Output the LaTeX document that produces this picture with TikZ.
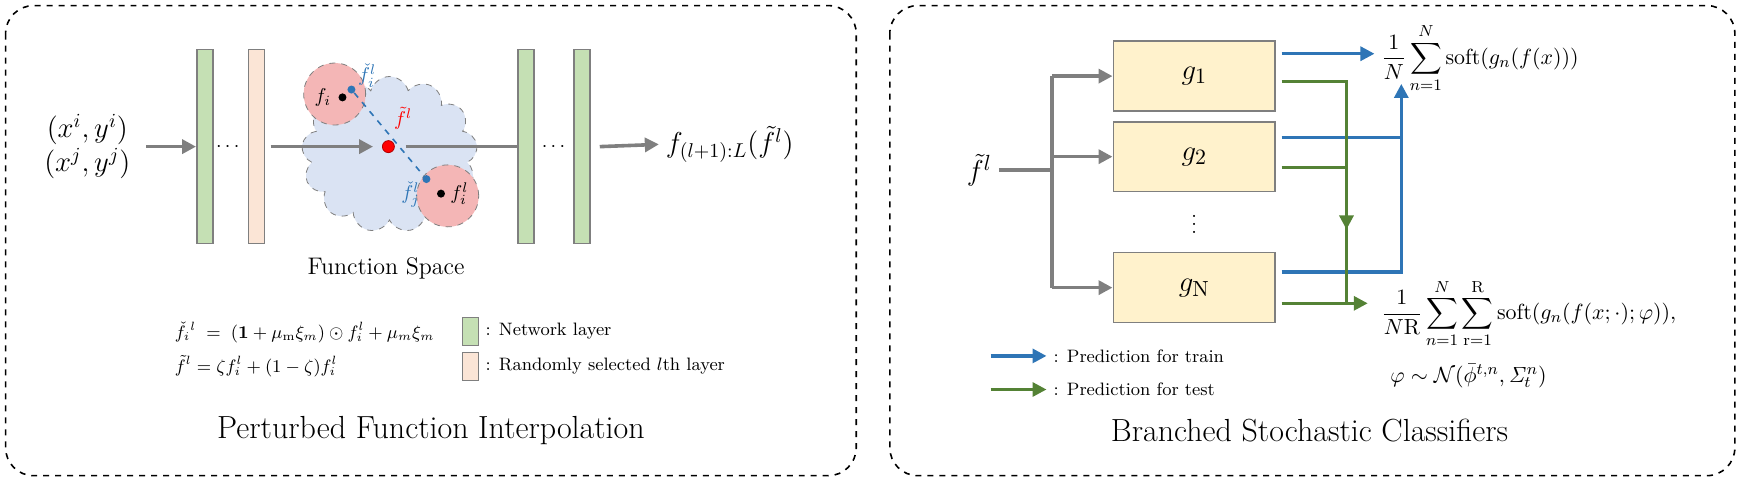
\documentclass[tikz,border=0pt]{standalone}
\usepackage{amsmath,amssymb,bm}
\usetikzlibrary{shapes.symbols,arrows.meta,positioning,calc}
\definecolor{garr}{HTML}{7F7F7F}
\definecolor{bl}{HTML}{2E75B6}
\definecolor{gr}{HTML}{548235}
\definecolor{lg}{HTML}{C5E0B4}
\definecolor{lp}{HTML}{FBE5D6}
\definecolor{by}{HTML}{FFF2CC}
\definecolor{cl}{HTML}{DAE3F3}
\definecolor{pk}{HTML}{F4B6B6}
\begin{document}
\begin{tikzpicture}[x=0.56pt,y=-0.56pt,
 panel/.style={draw,dashed,thick,rounded corners=14},
 ga/.style={draw=garr,line width=1.8pt,-{Triangle[length=7pt,width=7pt]}},
 gl/.style={draw=garr,line width=1.8pt},
 ba/.style={draw=bl,line width=1.6pt},
 gn/.style={draw=gr,line width=1.6pt},
 tip/.style={-{Triangle[length=7pt,width=7pt]}},
 bar/.style={draw=garr,thick,minimum width=8pt,minimum height=97pt,inner sep=0},
 box/.style={draw=garr,thick,fill=by,minimum width=81pt,minimum height=35pt,font=\fontsize{15}{18}\selectfont},
 ball/.style={circle,draw=garr,dashed,fill=pk,minimum size=31pt,inner sep=0},
 dot/.style={circle,fill,inner sep=0,minimum size=4pt}]
\useasboundingbox (0,0) rectangle (1568,430);
\draw[panel] (5,5) rectangle (765,425);
\draw[panel] (795,5) rectangle (1550,425);
\node[font=\fontsize{16}{19}\selectfont] (t1) at (385,385) {Perturbed Function Interpolation};
\node[font=\fontsize{16}{19}\selectfont] (t2) at (1170,385) {Branched Stochastic Classifiers};
% left
\node[font=\fontsize{14}{17}\selectfont,align=center] (in) at (78,131) {$(x^i,y^i)$\\$(x^j,y^j)$};
\node[bar,fill=lg] (b1) at (183,131) {};
\node (d1) at (205,131) {$\cdots$};
\node[bar,fill=lp] (b2) at (229,131) {};
\node[cloud,cloud puffs=13,draw=garr,dashed,fill=cl,minimum width=88pt,minimum height=78pt,aspect=1.1] (cl) at (348,138) {};
\node[ball] (ci) at (299,84) {};
\node[ball] (cj) at (400,175) {};
\node[dot] (fi) at (306,87) {}; \node[left=0pt of fi] {$f_i$};
\node[dot] (fj) at (394,173) {}; \node[right=-1pt of fj] {$f_i^l$};
\node[dot,fill=bl] (ti) at (314,80) {};
\node[dot,fill=bl] (tj) at (381,160) {};
\node[circle,fill=red,draw=red!70!black,inner sep=0,minimum size=6pt] (fm) at (347,131) {};
\draw[bl,dashed,thick] (ti) -- (tj);
\node[bl,anchor=south west,inner sep=1pt] at (ti.east) {$\check f_i^l$};
\node[bl,anchor=north east,inner sep=1pt] at (tj.west) {$\check f_j^l$};
\node[red,anchor=south west,inner sep=1pt] at (350,118) {$\tilde f^l$};
\node[bar,fill=lg] (b3) at (470,131) {};
\node (d2) at (496,131) {$\cdots$};
\node[bar,fill=lg] (b4) at (520,131) {};
\node[font=\fontsize{14}{17}\selectfont] (out) at (652,129) {$f_{(l+1):L}(\tilde f^l)$};
\draw[ga] ($(in.east)+(8,0)$) -- (b1.west);
\draw[ga] ($(b2.east)+(5,0)$) -- ($(fm.west)+(-8,0)$);
\draw[gl] ($(fm.east)+(10,0)$) -- (b3.west);
\draw[ga] ($(b4.east)+(8,0)$) -- (out.west);
\node[font=\fontsize{12}{14}\selectfont] (fs) at (345,240) {Function Space};
\node[anchor=west,font=\small] (e1) at (150,297) {$\check f_i{}^l\; = \;(\mathbf{1}+\mu_{\mathrm m}\xi_m)\odot f_i^l+\mu_m\xi_m$};
\node[anchor=west,font=\small] (e2) at (150,327) {$\tilde f^l = \zeta f_i^l+(1-\zeta)f_i^l$};
\node[draw=garr,fill=lg,minimum width=8pt,minimum height=14pt,inner sep=0] (l1) at (420,296) {};
\node[anchor=west,font=\small] at (l1.east) {: Network layer};
\node[draw=garr,fill=lp,minimum width=8pt,minimum height=14pt,inner sep=0] (l2) at (420,327) {};
\node[anchor=west,font=\small] at (l2.east) {: Randomly selected $l$th layer};
% right
\node[font=\fontsize{15}{18}\selectfont] (fin) at (875,152) {$\tilde f^l$};
\node[box] (g1) at (1067,68) {$g_1$};
\node[box] (g2) at (1067,140) {$g_2$};
\node[box] (gN) at (1067,257) {$g_{\mathrm N}$};
\node (vd) at (1067,195) {$\vdots$};
\coordinate (sp) at (940,152);
\draw[gl] (fin.east) -- (sp);
\draw[gl] (940,68) -- (940,257);
\draw[ga] (940,68) -- (g1.west);
\draw[ga] (940,140) -- (g2.west);
\draw[ga] (940,257) -- (gN.west);
\node[anchor=west,font=\fontsize{11}{13}\selectfont] (r1) at (1228,52) {$\dfrac{1}{N}\displaystyle\sum_{n=1}^{N}\mathrm{soft}(g_n(f(x)))$};
\node[anchor=west,font=\fontsize{11}{13}\selectfont] (r2) at (1228,280) {$\dfrac{1}{N\mathrm{R}}\displaystyle\sum_{n=1}^{N}\sum_{\mathrm r=1}^{\mathrm R}\mathrm{soft}(g_n(f(x;\cdot);\varphi)),$};
\node[anchor=west,font=\fontsize{11}{13}\selectfont] (r3) at (1236,336) {$\varphi\sim\mathcal N(\bar\phi^{t,n},\mathit{\Sigma}_t^n)$};
\draw[ba,tip] (1145,48) -- (1228,48);
\draw[ba] ($(g2.east)+(5,-17)$) -- (1252,123);
\draw[ba] ($(gN.east)+(5,-14)$) -- (1252,243) -- (1252,165);
\draw[ba,tip] (1252,166) -- (1252,75);
\draw[gn] ($(g1.east)+(5,5)$) -- (1203,73) -- (1203,205);
\draw[gn,tip] (1203,150) -- (1203,205);
\draw[gn] (1203,205) -- (1203,271);
\draw[gn] ($(g2.east)+(5,10)$) -- (1203,150);
\draw[gn,tip] ($(gN.east)+(5,14)$) -- (1222,271);
\draw[ba,tip] (885,318) -- (935,318);
\node[anchor=west,font=\small] at (935,318) {: Prediction for train};
\draw[gn,tip] (885,348) -- (935,348);
\node[anchor=west,font=\small] at (935,348) {: Prediction for test};
\end{tikzpicture}
\end{document}
